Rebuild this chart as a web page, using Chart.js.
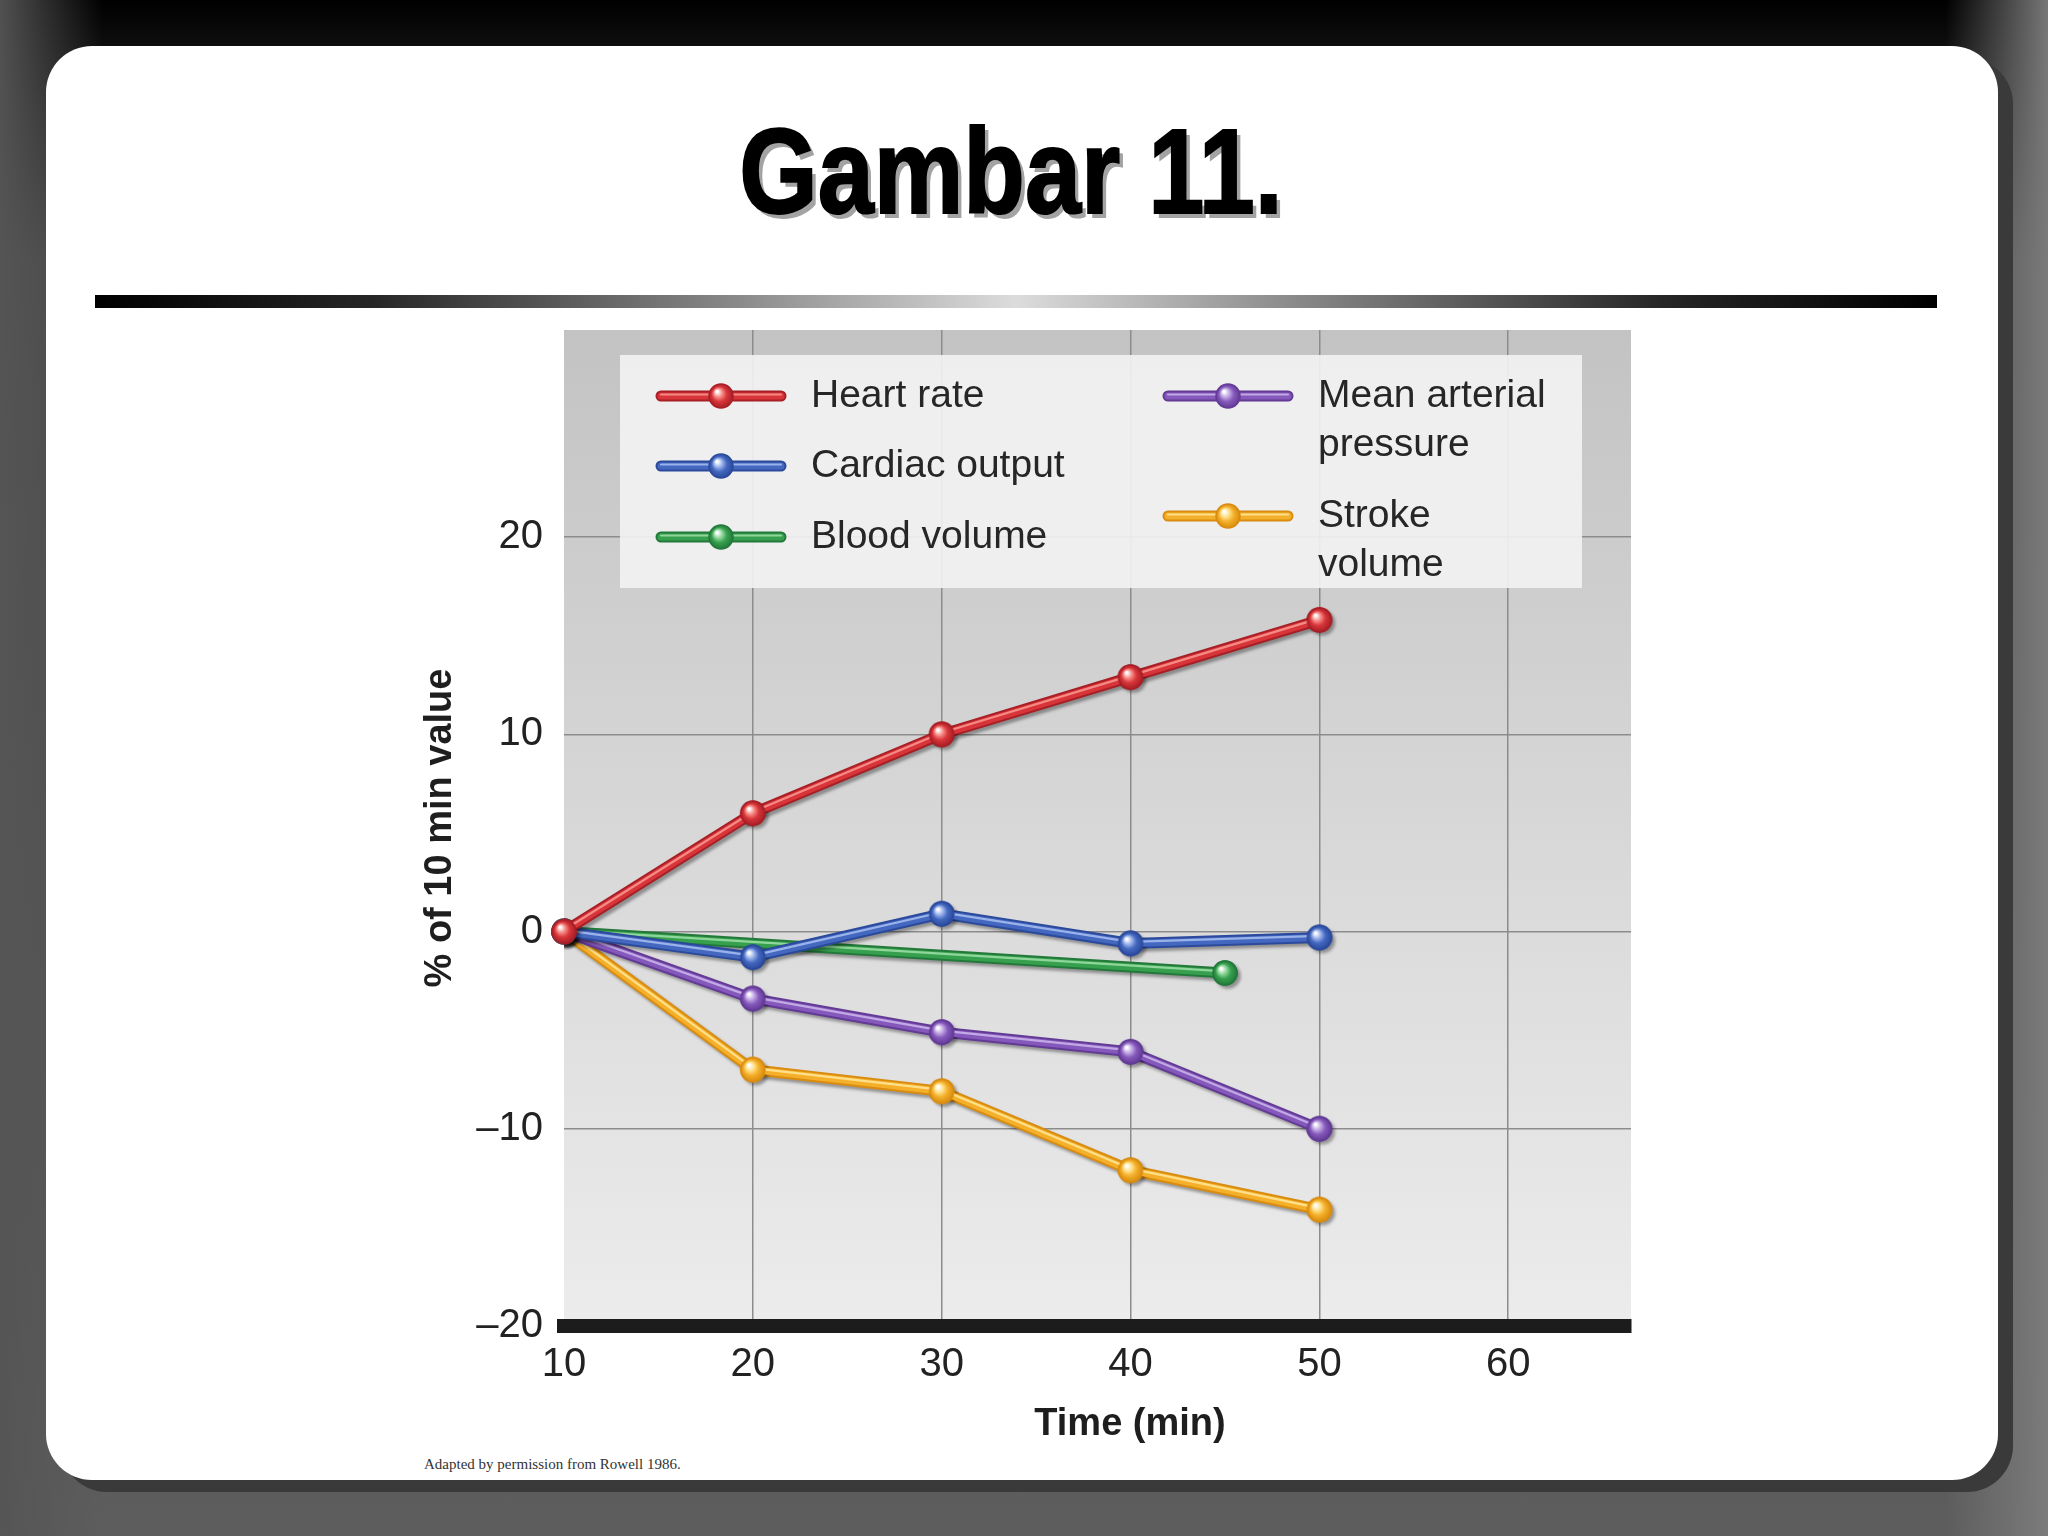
<!DOCTYPE html>
<html>
<head>
<meta charset="utf-8">
<script src="https://cdn.jsdelivr.net/npm/chart.js@4.4.1/dist/chart.umd.min.js"></script>
<style>
  html, body { margin: 0; padding: 0; }
  body {
    width: 2048px; height: 1536px; position: relative; overflow: hidden;
    background:
      linear-gradient(to right, rgba(85,85,85,0.95), rgba(0,0,0,0) 5%, rgba(0,0,0,0) 95%, rgba(125,125,125,0.95)),
      linear-gradient(to bottom, #000 0px, #0c0c0c 40px, #474747 260px, #5d5d5d 1536px);
    font-family: 'Liberation Sans', Arial, sans-serif;
  }
  #slide {
    position: absolute; left: 46px; top: 46px; width: 1952px; height: 1434px;
    background: #fff; border-radius: 46px; box-shadow: 15px 12px 0 #3a3a3a;
  }
  #title {
    position: absolute; left: 0; width: 2022px; top: 111px; text-align: center;
    font: bold 120px/120px 'Liberation Sans', Arial, sans-serif; color: #000;
    text-shadow: 5px 5px 0 #a3a3a3; transform: scaleX(0.84);
    -webkit-text-stroke: 2px #000;
  }
  #rule {
    position: absolute; left: 95px; top: 295px; width: 1842px; height: 13px;
    background: linear-gradient(to right, #000 0%, #262626 15%, #8a8a8a 35%, #dcdcdc 50%, #8a8a8a 65%, #262626 85%, #000 100%);
  }
  #note {
    position: absolute; left: 424px; top: 1456px;
    font: 15px 'Liberation Serif', 'Times New Roman', serif; color: #333;
  }
  #chart { position: absolute; left: 0; top: 0; }
</style>
</head>
<body>
<div id="slide"></div>
<div id="title">Gambar 11.</div>
<div id="rule"></div>
<div id="note">Adapted by permission from Rowell 1986.</div>
<canvas id="chart" width="2048" height="1536"></canvas>
<script>
// axis ticks
const xTicks = [10, 20, 30, 40, 50, 60];
const yTicks = [-20, -10, 0, 10, 20];

// series (percent of the 10 min value)
const seriesNames = ['Heart rate', 'Cardiac output', 'Blood volume', 'Mean arterial pressure', 'Stroke volume'];
const legendLines = [['Heart rate'], ['Cardiac output'], ['Blood volume'], ['Mean arterial', 'pressure'], ['Stroke', 'volume']];
const timeMain = [10, 20, 30, 40, 50];
const timeBlood = [10, 45];
const heartRate = [0, 6.0, 10.0, 12.9, 15.8];
const cardiacOutput = [0, -1.3, 0.9, -0.6, -0.3];
const bloodVolume = [0, -2.1];
const meanArterial = [0, -3.4, -5.1, -6.1, -10.0];
const strokeVolume = [0, -7.0, -8.1, -12.1, -14.1];

const colours = [
    { dark: '#a81f26', base: '#d8353a', light: '#f58a84' },
    { dark: '#2b4a9c', base: '#4468c0', light: '#9ab2ea' },
    { dark: '#23793a', base: '#37a04e', light: '#8fd69a' },
    { dark: '#633a96', base: '#8559bb', light: '#c2a8e4' },
    { dark: '#d98c10', base: '#f4b02a', light: '#ffe08a' }
];

function makeBall(c) {
    const r = 12, s = 2 * r + 4;
    const cv = document.createElement('canvas');
    cv.width = s; cv.height = s;
    const g = cv.getContext('2d');
    const grad = g.createRadialGradient(s / 2 - 4, s / 2 - 4.5, 1, s / 2, s / 2, r);
    grad.addColorStop(0, '#ffffff');
    grad.addColorStop(0.3, c.light);
    grad.addColorStop(0.6, c.base);
    grad.addColorStop(1, c.dark);
    g.beginPath();
    g.arc(s / 2, s / 2, r, 0, Math.PI * 2);
    g.fillStyle = grad;
    g.fill();
    g.lineWidth = 1.5;
    g.strokeStyle = c.dark;
    g.stroke();
    return cv;
}
const balls = colours.map(makeBall);

function zip(xs, ys) {
    return xs.map((x, i) => ({ x: x, y: ys[i] }));
}
const seriesData = [
    zip(timeMain, heartRate),
    zip(timeMain, cardiacOutput),
    zip(timeBlood, bloodVolume),
    zip(timeMain, meanArterial),
    zip(timeMain, strokeVolume)
];

function drawTube(ctx, pts, c, outline) {
    const path = () => {
        ctx.beginPath();
        pts.forEach((p, i) => i ? ctx.lineTo(p[0], p[1]) : ctx.moveTo(p[0], p[1]));
    };
    ctx.save();
    ctx.lineJoin = 'round';
    ctx.lineCap = 'round';
    if (outline) {
        path(); ctx.lineWidth = 11; ctx.strokeStyle = c.dark; ctx.stroke();
    }
    path(); ctx.lineWidth = 7; ctx.strokeStyle = c.base; ctx.stroke();
    ctx.translate(0, -1.5);
    path(); ctx.lineWidth = 2.2; ctx.strokeStyle = c.light; ctx.stroke();
    ctx.restore();
}

const plotBackground = {
    id: 'plotBackground',
    beforeDraw(chart) {
        const { ctx, chartArea: a } = chart;
        const grad = ctx.createLinearGradient(0, a.top, 0, a.bottom);
        grad.addColorStop(0, '#c3c3c3');
        grad.addColorStop(1, '#ececec');
        ctx.save();
        ctx.fillStyle = grad;
        ctx.fillRect(a.left, a.top, a.right - a.left, a.bottom - a.top);
        ctx.restore();
    }
};

const legendBox = {
    id: 'legendBox',
    beforeDatasetsDraw(chart) {
        const { ctx, chartArea: a } = chart;
        ctx.save();
        ctx.fillStyle = 'rgba(243,243,243,0.9)';
        ctx.fillRect(a.left + 56, a.top + 25, 962, 233);
        const slots = [[97, 66], [97, 136], [97, 207], [604, 66], [604, 186]];
        chart.data.datasets.forEach((ds, i) => {
            const x0 = a.left + slots[i][0], y0 = a.top + slots[i][1];
            drawTube(ctx, [[x0, y0], [x0 + 120, y0]], colours[i], true);
            ctx.drawImage(balls[i], x0 + 60 - balls[i].width / 2, y0 - balls[i].height / 2);
            ctx.fillStyle = '#262626';
            ctx.font = "39px 'Liberation Sans', Arial, sans-serif";
            ctx.textBaseline = 'middle';
            ctx.textAlign = 'left';
            legendLines[i].forEach((t, k) => ctx.fillText(t, x0 + 150, y0 + k * 49));
        });
        ctx.restore();
    }
};

const tubeLines = {
    id: 'tubeLines',
    beforeDatasetDraw(chart) {
        const ctx = chart.ctx;
        ctx.save();
        ctx.shadowColor = 'rgba(0,0,0,0.35)';
        ctx.shadowOffsetX = 3;
        ctx.shadowOffsetY = 3;
        ctx.shadowBlur = 3;
    },
    afterDatasetDraw(chart, args) {
        const ctx = chart.ctx;
        ctx.restore();
        const pts = args.meta.data.map(p => [p.x, p.y]);
        drawTube(ctx, pts, colours[args.index], false);
        args.meta.data.forEach(p => p.draw(ctx, chart.chartArea));
    }
};

const xTitle = {
    id: 'xTitle',
    afterDraw(chart) {
        const { ctx, chartArea: a } = chart;
        ctx.save();
        ctx.font = "bold 38px 'Liberation Sans', Arial, sans-serif";
        ctx.fillStyle = '#1e1e1e';
        ctx.textAlign = 'center';
        ctx.textBaseline = 'middle';
        ctx.fillText('Time (min)', a.left + 566, a.bottom + 99);
        ctx.restore();
    }
};

Chart.defaults.font.family = "'Liberation Sans', Arial, sans-serif";

document.addEventListener('DOMContentLoaded', function () {
    new Chart(document.getElementById('chart'), {
        type: 'line',
        data: {
            datasets: seriesData.map((d, i) => ({
                label: seriesNames[i],
                data: d,
                borderColor: colours[i].dark,
                borderWidth: 11,
                pointStyle: balls[i],
                pointRadius: 12,
                tension: 0
            }))
        },
        options: {
            responsive: false,
            animation: false,
            layout: { padding: { left: 400, top: 330, right: 417, bottom: 86 } },
            plugins: { legend: { display: false }, tooltip: { enabled: false } },
            scales: {
                x: {
                    type: 'linear',
                    min: 10,
                    max: 66.5,
                    afterBuildTicks: s => { s.ticks = xTicks.map(v => ({ value: v })); },
                    afterFit: s => { s.height = 124; },
                    grid: {
                        color: c => (c.tick && c.tick.value === 10) ? 'rgba(0,0,0,0)' : '#8c8c8c',
                        lineWidth: 1.5,
                        drawTicks: false
                    },
                    border: { display: true, color: '#1c1c1c', width: 14 },
                    ticks: { padding: 15, color: '#222', font: { size: 40 } }
                },
                y: {
                    min: -20,
                    max: 30.5,
                    afterBuildTicks: s => { s.ticks = yTicks.map(v => ({ value: v })); },
                    afterFit: s => { s.width = 164; },
                    grid: {
                        color: c => (c.tick && c.tick.value === -20) ? 'rgba(0,0,0,0)' : '#8c8c8c',
                        lineWidth: 1.5,
                        drawTicks: false
                    },
                    border: { display: false },
                    ticks: {
                        padding: 21,
                        color: '#222',
                        font: { size: 40 },
                        callback: v => v < 0 ? '\u2013' + Math.abs(v) : String(v)
                    },
                    title: {
                        display: true,
                        text: '% of 10 min value',
                        color: '#1e1e1e',
                        font: { size: 38, weight: 'bold' },
                        padding: { top: 18, bottom: 0 }
                    }
                }
            }
        },
        plugins: [plotBackground, legendBox, tubeLines, xTitle]
    });
});
</script>
</body>
</html>
